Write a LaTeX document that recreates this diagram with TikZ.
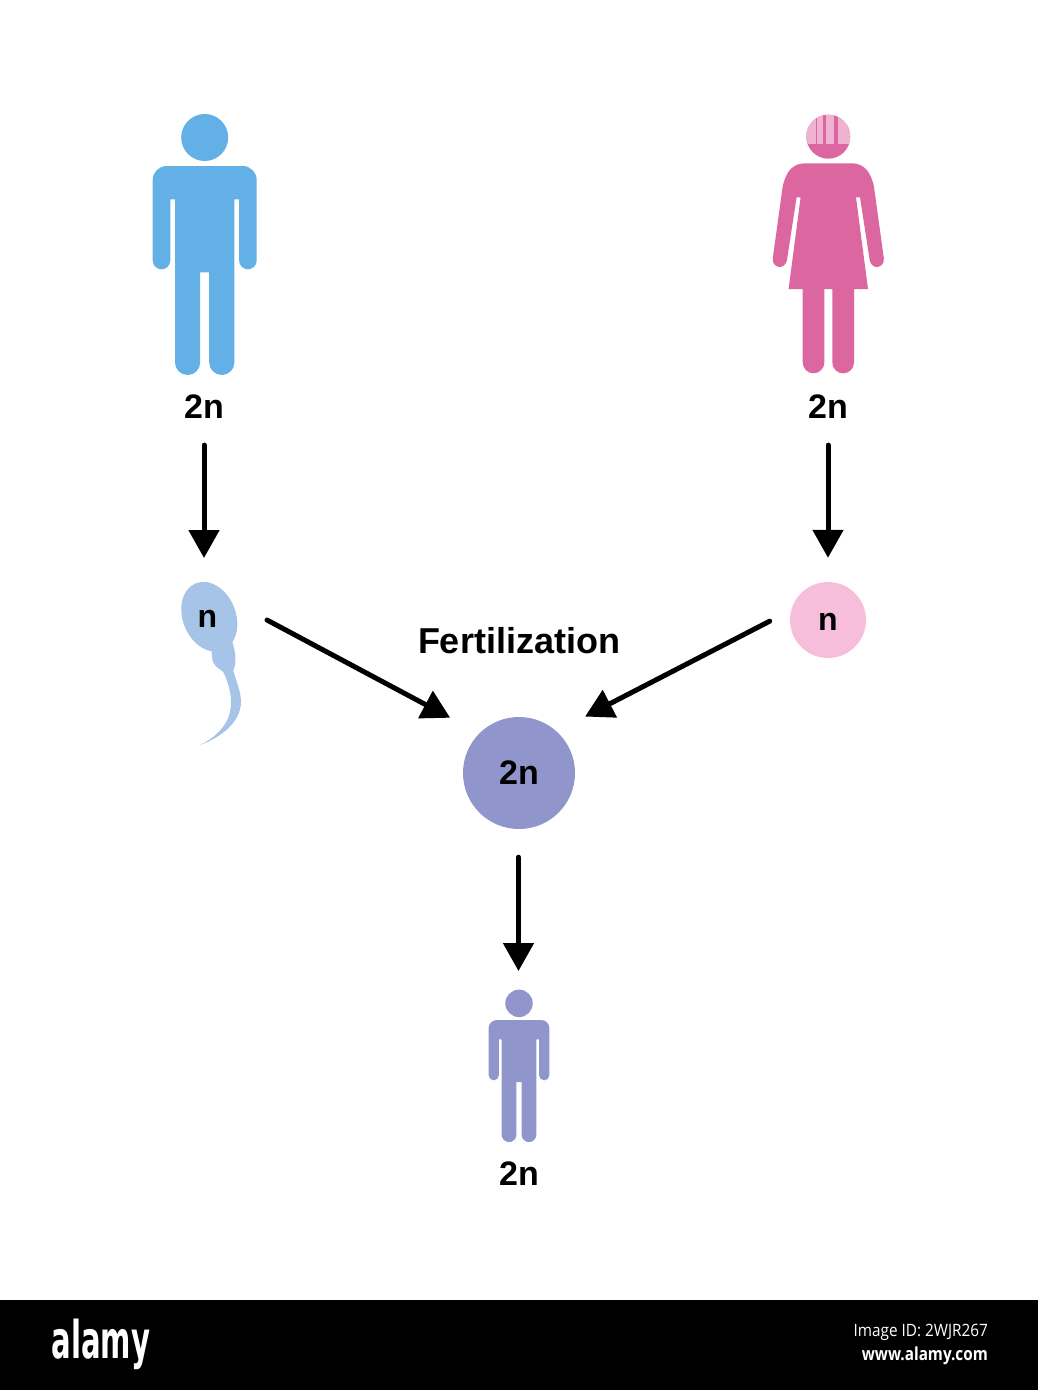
\documentclass[tikz,border=0pt]{standalone}
\usepackage{fontspec}
\setmainfont{Liberation Sans}
\newfontfamily\footfont{Open Sans}
\newfontfamily\logofont{DejaVu Sans}
\usetikzlibrary{arrows.meta}
\definecolor{malecol}{HTML}{62B0E5}
\definecolor{femalecol}{HTML}{DC669F}
\definecolor{femalelight}{HTML}{EFB3D1}
\definecolor{eggcol}{HTML}{F7BEDB}
\definecolor{spermcol}{HTML}{A5C4E8}
\definecolor{zygotecol}{HTML}{9095CB}
\tikzset{
  arr/.style={line width=5pt,line cap=round,-{Triangle[width=30pt,length=28pt]}},
  lab/.style={font=\bfseries\fontsize{34}{34}\selectfont,text=black,inner sep=0pt},
  smalllab/.style={font=\bfseries\fontsize{32}{32}\selectfont,text=black,inner sep=0pt},
  disc/.style={circle,inner sep=0pt},
}
\newcommand{\personfig}[4]{%
  \begin{scope}[shift={(#1,#2)},scale=#3]
    \fill[#4] (0,-28.5) circle[radius=23.5];
    \fill[#4] (-38,0) -- (38,0) arc[start angle=-90,end angle=0,radius=14]
      -- (52,94.5) arc[start angle=0,end angle=180,radius=8.8]
      -- (34.4,33.3) -- (29.7,33.3) -- (29.7,196.4)
      arc[start angle=0,end angle=180,radius=12.6]
      -- (4.5,106.3) -- (-4.5,106.3) -- (-4.5,196.4)
      arc[start angle=0,end angle=180,radius=12.6]
      -- (-29.7,33.3) -- (-34.4,33.3) -- (-34.4,94.5)
      arc[start angle=0,end angle=180,radius=8.8]
      -- (-52,14) arc[start angle=180,end angle=270,radius=14] -- cycle;
  \end{scope}}
\begin{document}
\begin{tikzpicture}[x=1pt,y=-1pt]
\useasboundingbox (0,0) rectangle (1038,1390);
\fill[white] (0,0) rectangle (1038,1390);

% male
\personfig{204.7}{166}{1}{malecol}
\node[lab] (male2n) at (204,407) {2n};

% female
\fill[femalecol] (828.3,136.7) circle[radius=22];
\begin{scope}
  \clip (828.3,136.7) circle[radius=22];
  \fill[femalelight] (806,114) rectangle (851,144.3);
  \fill[femalecol] (823,114) rectangle (826,144.3);
  \fill[femalecol] (834,114) rectangle (838,144.3);
  \fill[femalecol] (815.5,114) rectangle (817,144.3);
\end{scope}
\fill[femalecol] (805,163.3) -- (851.7,163.3)
  .. controls (864,163.3) and (871,172) .. (874,187)
  -- (883.8,258) .. controls (884.8,264) and (880,267) .. (877,267)
  .. controls (873.5,267) and (871,264.5) .. (869.8,261)
  -- (860,197.3) -- (856,197.3) -- (868,289) -- (854,289) -- (854,362.5)
  arc[start angle=0,end angle=180,radius=10.85]
  -- (832.3,289) -- (824.3,289) -- (824.3,362.5)
  arc[start angle=0,end angle=180,radius=10.8]
  -- (802.7,289) -- (788.6,289) -- (800.6,197.3) -- (796.6,197.3)
  -- (786.8,261) .. controls (785.6,264.5) and (783,267) .. (779.6,267)
  .. controls (776.6,267) and (771.8,264) .. (772.8,258)
  -- (782.6,187) .. controls (785.6,172) and (792.6,163.3) .. (805,163.3) -- cycle;
\node[lab] (female2n) at (828,407) {2n};

% sperm
\fill[spermcol, rotate around={22:(209.3,616.7)}] (209.3,616.7) ellipse[x radius=26.5,y radius=36];
\fill[spermcol] (211,645) .. controls (212,655) and (212,663) .. (215,665)
  .. controls (218,669) and (221,669) .. (223.3,672)
  .. controls (229,684) and (233,698) .. (230,712)
  .. controls (227,727) and (213,739) .. (200,745)
  .. controls (222,737) and (240,722) .. (241,703)
  .. controls (241,690) and (236,682) .. (233.3,670)
  .. controls (236,665) and (237,655) .. (231.7,640) -- cycle;
\node[smalllab] (spermn) at (207.5,618.5) {n};
\coordinate (spermtop) at (204,582);
\coordinate (spermout) at (267,620);

% egg
\node[disc,fill=eggcol,minimum size=76pt] (egg) at (828,620) {};
\node[smalllab] (eggn) at (828,621.5) {n};

% zygote
\node[disc,fill=zygotecol,minimum size=112pt] (zygote) at (519,773) {};
\node[lab] (zygote2n) at (519,773) {2n};
\node[font=\bfseries\fontsize{36}{36}\selectfont,inner sep=0pt] (fert) at (519,641) {Fertilization};

% child
\personfig{519}{1020}{0.584}{zygotecol}
\node[lab] (child2n) at (519,1174) {2n};
\coordinate (childtop) at (518.5,989);

% arrows
\draw[arr,shorten <=26pt,shorten >=24pt] (male2n.south) -- (spermtop);
\draw[arr,shorten <=26pt,shorten >=24pt] (female2n.south) -- (female2n.south |- egg.north);
\draw[arr,shorten >=33pt] (spermout) -- (zygote.135);
\draw[arr,shorten <=24pt,shorten >=32pt] (egg.165) -- (zygote.48);
\draw[arr,shorten <=28pt,shorten >=18pt] (zygote.south -| childtop) -- (childtop);

% footer
\fill[black] (0,1300) rectangle (1038,1390);
\node[inner sep=0pt,text=white,font=\logofont\bfseries\fontsize{52}{52}\selectfont,xscale=.56,transform shape] (logo) at (101,1344) {alamy};
\node[inner sep=0pt,anchor=east,text=white,font=\footfont\fontsize{17}{17}\selectfont,xscale=.9] (imgid) at (988,1332) {Image ID: 2WJR267};
\node[inner sep=0pt,anchor=east,text=white,font=\footfont\bfseries\fontsize{18}{18}\selectfont,xscale=.85] (url) at (988,1356) {www.alamy.com};
\end{tikzpicture}
\end{document}
